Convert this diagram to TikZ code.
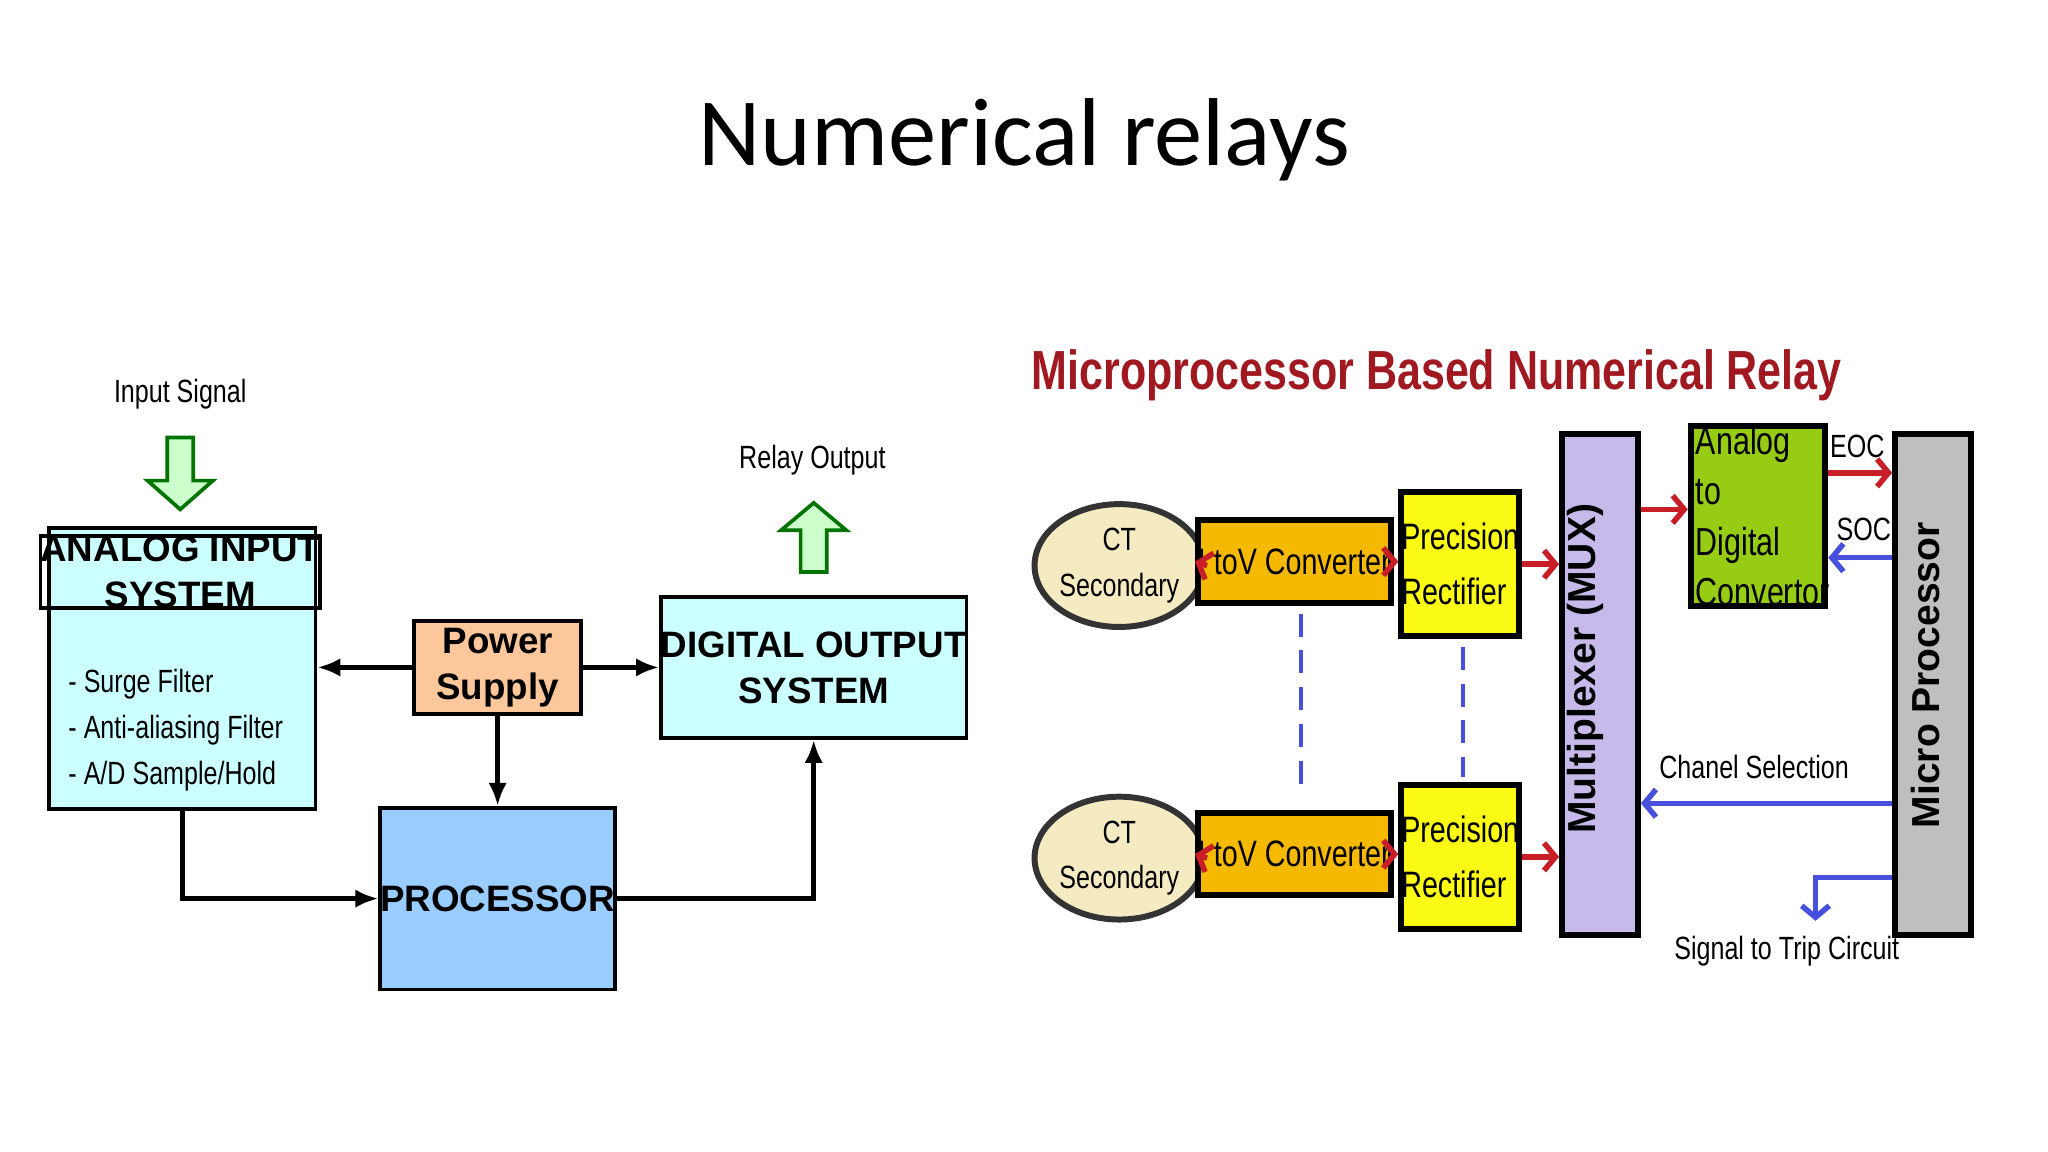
\documentclass[tikz,border=0pt]{standalone}
\usepackage{fontspec}
\setmainfont{Liberation Sans}
\newfontfamily\titlefont{Carlito}
\newfontfamily\narrowfont[FakeStretch=0.78]{Liberation Sans}
\usetikzlibrary{positioning,calc,arrows.meta,shapes.geometric}
\definecolor{cyanBox}{RGB}{204,255,255}
\definecolor{psColor}{RGB}{252,200,155}
\definecolor{procColor}{RGB}{153,204,255}
\definecolor{ctColor}{RGB}{245,235,195}
\definecolor{ivColor}{RGB}{245,185,0}
\definecolor{prColor}{RGB}{250,250,20}
\definecolor{muxColor}{RGB}{200,185,235}
\definecolor{adcColor}{RGB}{150,205,20}
\definecolor{relRed}{RGB}{200,30,40}
\definecolor{selBlue}{RGB}{70,80,220}
\tikzset{
    blk/.style={draw, thick, inner sep=0pt, align=center, font=\fontsize{8}{10}\selectfont\bfseries},
    rblk/.style={draw=black, line width=1.3pt, inner sep=0pt, align=left, font=\narrowfont\fontsize{8}{10}\selectfont},
    lbl/.style={font=\narrowfont\fontsize{7}{9}\selectfont},
    ptr/.style={-{Latex[length=5pt,width=4pt]}, line width=1.1pt},
    redptr/.style={-{Straight Barb[length=2.5pt,width=6pt]}, line width=1.2pt, relRed},
    blueptr/.style={-{Straight Barb[length=2.5pt,width=6pt]}, line width=1.2pt, selBlue},
    hollow/.style={fill=green!20, draw=green!45!black, thick}
}
\begin{document}
\begin{tikzpicture}[x=0.01cm, y=-0.01cm]
    \useasboundingbox (0,0) rectangle (1568,882);
    % title
    \node[font=\titlefont\fontsize{21}{24}\selectfont] (title) at (784,107) {Numerical relays};

    % left diagram
    \node[lbl] (insig) at (138,302) {Input Signal};
    \draw[hollow] (128,335) -- (148,335) -- (148,368) -- (163,368) -- (138,390) -- (113,368) -- (128,368) -- cycle;
    \node[blk, fill=cyanBox, minimum width=2.04cm, minimum height=2.15cm, anchor=north west] (ain) at (36,403) {};
    \node[blk, anchor=north] (aint) at (138,409) {ANALOG INPUT\\SYSTEM};
    \node[lbl, anchor=north west, align=left] (ainl) at (40,500) {- Surge Filter\\[1pt]- Anti-aliasing Filter\\[1pt]- A/D Sample/Hold};
    \node[blk, fill=psColor, minimum width=1.28cm, minimum height=0.71cm] (ps) at (381,511) {Power\\Supply};
    \node[blk, fill=cyanBox, minimum width=2.02cm, minimum height=1.08cm] (dout) at (623,511) {DIGITAL OUTPUT\\SYSTEM};
    \node[lbl] (rout) at (622,352) {Relay Output};
    \draw[hollow] (613,438) -- (633,438) -- (633,406) -- (648,406) -- (623,385) -- (598,406) -- (613,406) -- cycle;
    \node[blk, fill=procColor, minimum width=1.78cm, minimum height=1.39cm] (proc) at (381,688) {PROCESSOR};
    \draw[ptr] (ps.west) -- (ain.east |- ps.west);
    \draw[ptr] (ps.east) -- (dout.west);
    \draw[ptr] (ps.south) -- (proc.north);
    \draw[ptr] (ain.south) |- (proc.west);
    \draw[ptr] (proc.east) -| (dout.south);

    % right diagram
    \node[font=\narrowfont\fontsize{12}{14}\selectfont\bfseries, text=relRed!80!black] (rtitle) at (1100,287) {Microprocessor Based Numerical Relay};
    \foreach \n/\y in {1/433, 2/657} {
        \node[draw=black!80, line width=1.3pt, fill=ctColor, ellipse, minimum width=0.9cm, minimum height=0.94cm, inner sep=0pt, align=center, lbl] (ct\n) at (857,\y) {CT\\[1pt]Secondary};
        \node[rblk, fill=ivColor, minimum width=1.14cm, minimum height=0.63cm] (iv\n) at (991,\y-3) {I toV Converter};
        \node[rblk, fill=prColor, minimum width=0.72cm, minimum height=1.1cm] (pr\n) at (1118,\y-1) {Precision\\[2pt]Rectifier};
        \draw[redptr] (ct\n.east) -- (iv\n.west);
        \draw[redptr] (iv\n.east) -- (pr\n.west |- iv\n.east);
    }
    \node[rblk, fill=muxColor, minimum width=0.58cm, minimum height=3.83cm] (mux) at (1225,524) {};
    \node[rotate=90, font=\fontsize{8.5}{10}\selectfont\bfseries] (muxt) at (1214,512) {Multiplexer (MUX)};
    \node[rblk, fill=adcColor, minimum width=1.03cm, minimum height=1.08cm, text width=0.95cm, font=\narrowfont\fontsize{8.5}{11}\selectfont] (adc) at (1346,395) {Analog to\\Digital\\Convertor};
    \node[rblk, fill=black!25, minimum width=0.58cm, minimum height=3.83cm] (mp) at (1480,524) {};
    \node[rotate=90, font=\fontsize{8.5}{10}\selectfont\bfseries] (mpt) at (1474,517) {Micro Processor};
    \draw[redptr] (pr1.east) -- (mux.west |- pr1.east);
    \draw[redptr] (pr2.east) -- (mux.west |- pr2.east);
    \draw[redptr] (mux.east |- 0,390) -- (adc.west |- 0,390);
    \draw[redptr] (adc.east |- 0,362) -- (mp.west |- 0,362);
    \draw[blueptr] (mp.west |- 0,427) -- (adc.east |- 0,427);
    \node[lbl] (eoc) at (1422,342) {EOC};
    \node[lbl] (soc) at (1427,405) {SOC};
    \draw[blueptr] (mp.west |- 0,615) -- (mux.east |- 0,615);
    \node[lbl] (chsel) at (1343,587) {Chanel Selection};
    \coordinate (tripc) at (1390,705);
    \draw[blueptr] (mp.west |- 0,672) -| (tripc);
    \node[lbl] (trip) at (1368,728) {Signal to Trip Circuit};
    \draw[selBlue, thick, dash pattern=on 5pt off 3pt] (iv1.south) ++(5,6) -- ($(iv2.north)+(5,-14)$);
    \draw[selBlue, thick, dash pattern=on 5pt off 3pt] (pr1.south) ++(2,6) -- ($(pr2.north)+(2,-4)$);
\end{tikzpicture}
\end{document}
